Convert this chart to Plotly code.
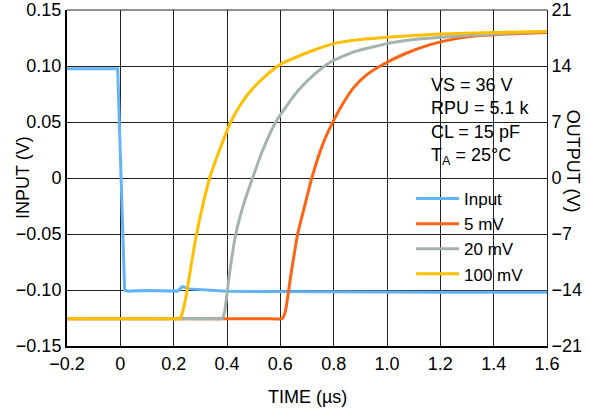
import plotly.graph_objects as go

# time axis in microseconds
input_t = [-0.2, -0.01, 0.016, 0.03, 0.1, 0.215, 0.232, 0.26, 0.4, 0.8, 1.2, 1.6]
input_v = [0.0975, 0.0975, -0.1, -0.101, -0.1005, -0.101, -0.097, -0.099, -0.1012, -0.1018, -0.102, -0.102]

# output curves in volts (right axis)
out5_t = [-0.2, 0.3, 0.57, 0.606, 0.618, 0.64, 0.665, 0.692, 0.718, 0.76, 0.8, 0.84, 0.875, 0.92,
          0.975, 1.065, 1.165, 1.24, 1.35, 1.45, 1.6]
out5_v = [-17.6, -17.6, -17.6, -17.6, -16.8, -12.0, -7.0, -3.4, 0.0, 4.3, 7.2, 9.6, 11.3, 12.8,
          14.0, 15.5, 16.7, 17.3, 17.8, 18.0, 18.2]

out20_t = [-0.2, 0.1, 0.35, 0.38, 0.39, 0.41, 0.433, 0.465, 0.496, 0.533, 0.583, 0.621, 0.671,
           0.733, 0.789, 0.87, 0.95, 1.0, 1.1, 1.2, 1.4, 1.6]
out20_v = [-17.6, -17.6, -17.6, -17.6, -16.9, -11.8, -7.0, -3.0, 0.0, 3.4, 7.0, 8.9, 11.1,
           13.1, 14.5, 15.7, 16.4, 16.8, 17.3, 17.6, 18.0, 18.3]

out100_t = [-0.2, 0.0, 0.19, 0.222, 0.232, 0.246, 0.266, 0.286, 0.31, 0.335, 0.371, 0.414, 0.446,
            0.489, 0.546, 0.6, 0.652, 0.727, 0.8, 0.9, 1.0, 1.2, 1.4, 1.6]
out100_v = [-17.6, -17.6, -17.6, -17.6, -16.9, -14.9, -10.8, -7.0, -3.3, 0.0, 3.4, 7.0, 8.9,
            10.9, 12.8, 14.2, 15.0, 16.0, 16.8, 17.3, 17.6, 18.0, 18.2, 18.3]

x_ticks = [-0.2, 0, 0.2, 0.4, 0.6, 0.8, 1.0, 1.2, 1.4, 1.6]
x_labels = ["\u22120.2", "0", "0.2", "0.4", "0.6", "0.8", "1.0", "1.2", "1.4", "1.6"]
y_ticks = [0.15, 0.10, 0.05, 0, -0.05, -0.10, -0.15]
y_labels = ["0.15", "0.10", "0.05", "0", "\u22120.05", "\u22120.10", "\u22120.15"]
y2_ticks = [21, 14, 7, 0, -7, -14, -21]
y2_labels = ["21", "14", "7", "0", "\u22127", "\u221214", "\u221221"]

conditions = ["VS = 36 V", "RPU = 5.1 k", "CL = 15 pF", "T<sub>A</sub> = 25°C"]

font = "Arial, Liberation Sans, sans-serif"
grid = "#222"

fig = go.Figure()
fig.add_trace(go.Scatter(x=input_t, y=input_v, name="Input", mode="lines",
                         line=dict(color="#62b3f8", width=3)))
fig.add_trace(go.Scatter(x=out5_t, y=out5_v, name="5 mV", mode="lines", yaxis="y2",
                         line=dict(color="#fa6414", width=3, shape="spline", smoothing=0.5)))
fig.add_trace(go.Scatter(x=out20_t, y=out20_v, name="20 mV", mode="lines", yaxis="y2",
                         line=dict(color="#a3b3ae", width=3, shape="spline", smoothing=0.5)))
fig.add_trace(go.Scatter(x=out100_t, y=out100_v, name="100 mV", mode="lines", yaxis="y2",
                         line=dict(color="#ffbe00", width=3, shape="spline", smoothing=0.5)))

# white boxes behind the text block and the legend, thin frame line on top
fig.add_shape(type="rect", xref="paper", yref="paper", x0=0.75, x1=0.985, y0=0.524, y1=0.83,
              fillcolor="white", line_width=0, layer="between")
fig.add_shape(type="rect", xref="paper", yref="paper", x0=0.69, x1=0.975, y0=0.176, y1=0.485,
              fillcolor="white", line_width=0, layer="between")
fig.add_shape(type="line", xref="paper", yref="paper", x0=0, x1=1, y0=1, y1=1,
              line=dict(color=grid, width=1))

fig.add_annotation(text="<br>".join(conditions), xref="paper", yref="paper", x=0.754, y=0.667,
                   xanchor="left", yanchor="middle", align="left", showarrow=False,
                   font=dict(size=18, color="black"))
fig.add_annotation(text="TIME (µs)", xref="paper", yref="paper", x=0.5, y=-0.151,
                   xanchor="center", yanchor="middle", showarrow=False, font=dict(size=18, color="black"))
fig.add_annotation(text="INPUT (V)", xref="paper", yref="paper", x=-0.0917, y=0.503, textangle=-90,
                   xanchor="center", yanchor="middle", showarrow=False, font=dict(size=18, color="black"))
fig.add_annotation(text="OUTPUT (V)", xref="paper", yref="paper", x=1.053, y=0.55, textangle=90,
                   xanchor="center", yanchor="middle", showarrow=False, font=dict(size=18, color="black"))

fig.update_layout(
    width=590, height=410,
    margin=dict(l=67, r=43, t=10, b=64, autoexpand=False),
    plot_bgcolor="white", paper_bgcolor="white",
    font=dict(family=font, size=18, color="black"),
    showlegend=True,
    legend=dict(x=0.7167, y=0.491, xanchor="left", yanchor="top", bgcolor="rgba(0,0,0,0)",
                font=dict(size=17), itemwidth=43, tracegroupgap=0),
    xaxis=dict(range=[-0.2, 1.6], tickvals=x_ticks, ticktext=x_labels, showgrid=True,
               gridcolor=grid, gridwidth=1, zeroline=False, showline=True, linecolor="black",
               linewidth=2, ticks="", ticklabeloverflow="allow"),
    yaxis=dict(range=[-0.15, 0.15], tickvals=y_ticks, ticktext=y_labels, showgrid=True,
               gridcolor=grid, gridwidth=1, zeroline=False, showline=True, linecolor="black",
               linewidth=2, ticks="", ticklabeloverflow="allow"),
    yaxis2=dict(range=[-21, 21], tickvals=y2_ticks, ticktext=y2_labels, overlaying="y", side="right",
                showgrid=False, zeroline=False, showline=True, linecolor=grid, linewidth=1, ticks="",
                ticklabeloverflow="allow"),
)

# page body margin off so the 590x410 figure fills the window
fig.write_html("out.html", config={"displayModeBar": False},
               post_script="document.body.style.margin = '0';")
